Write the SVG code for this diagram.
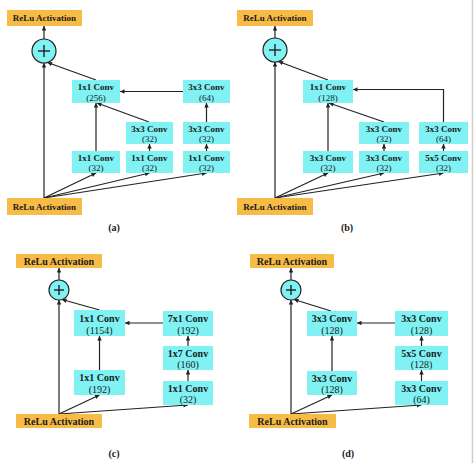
<svg xmlns="http://www.w3.org/2000/svg" width="474" height="467" viewBox="0 0 474 467">
<defs>
<marker id="ah" viewBox="0 0 10 10" refX="10" refY="5" markerWidth="5" markerHeight="4.5" orient="auto" markerUnits="userSpaceOnUse">
<path d="M0,0 L10,5 L0,10 z" fill="#222"/>
</marker>
</defs>
<style>
.relu{fill:#F7BC45}
.conv{fill:#80F2F4}
.sum{fill:#80F2F4;stroke:#222;stroke-width:1.2}
.plus{stroke:#222;stroke-width:1.4}
text{font-family:"Liberation Serif","Times New Roman",serif;fill:#1a1a1a;text-anchor:middle}
.t9{font-size:9px;font-weight:bold}
.n9{font-size:9px}
.t10{font-size:10px;font-weight:bold}
.n10{font-size:10px}
.lab{font-size:10px;font-weight:bold}
.c line,.c polyline{stroke:#222;stroke-width:1.2;fill:none;marker-end:url(#ah)}
</style>
<rect width="474" height="467" fill="#fff"/>
<line x1="472.5" y1="0" x2="472.5" y2="463" stroke="#cfcfcf" stroke-width="1.5"/>

<g class="c" id="connectors">
<!-- (a) -->
<line x1="44" y1="39" x2="44" y2="26"/>
<line x1="44" y1="198" x2="44" y2="63"/>
<line x1="96" y1="80" x2="47.5" y2="62.5"/>
<line x1="96" y1="151" x2="96" y2="103"/>
<line x1="149" y1="122" x2="97" y2="103"/>
<line x1="149.5" y1="151" x2="149.5" y2="144"/>
<line x1="206.5" y1="151" x2="206.5" y2="144"/>
<line x1="206.5" y1="122" x2="206.5" y2="103"/>
<line x1="183" y1="91.5" x2="120" y2="91.5"/>
<line x1="44" y1="198" x2="96" y2="173"/>
<line x1="44" y1="198" x2="149.5" y2="173"/>
<line x1="44" y1="198" x2="206.5" y2="173"/>
<!-- (b) -->
<line x1="275" y1="38" x2="275" y2="26"/>
<line x1="275" y1="198" x2="275" y2="62"/>
<line x1="328" y1="80" x2="278.5" y2="61.5"/>
<line x1="328" y1="151" x2="328" y2="103"/>
<line x1="384" y1="122" x2="329" y2="103"/>
<line x1="384" y1="151" x2="384" y2="144"/>
<line x1="443.5" y1="151" x2="443.5" y2="144"/>
<polyline points="443.5,122 443.5,89.5 353,89.5"/>
<line x1="275" y1="198" x2="328" y2="173"/>
<line x1="275" y1="198" x2="384" y2="173"/>
<line x1="275" y1="198" x2="443.5" y2="173"/>
<!-- (c) -->
<line x1="59" y1="280" x2="59" y2="268"/>
<line x1="59" y1="414" x2="59" y2="300"/>
<line x1="99.5" y1="310" x2="62" y2="299.5"/>
<line x1="163" y1="323" x2="125" y2="323"/>
<line x1="99.5" y1="370" x2="99.5" y2="336"/>
<line x1="188" y1="381" x2="188" y2="370"/>
<line x1="188" y1="346" x2="188" y2="336"/>
<line x1="59" y1="414" x2="99.5" y2="395"/>
<line x1="59" y1="414" x2="188" y2="405"/>
<!-- (d) -->
<line x1="291" y1="280" x2="291" y2="268"/>
<line x1="291" y1="414" x2="291" y2="300"/>
<line x1="331" y1="311" x2="294" y2="299.5"/>
<line x1="395" y1="323" x2="357" y2="323"/>
<line x1="332" y1="371" x2="332" y2="336"/>
<line x1="421.5" y1="381" x2="421.5" y2="370"/>
<line x1="421.5" y1="346" x2="421.5" y2="336"/>
<line x1="291" y1="414" x2="332" y2="395"/>
<line x1="291" y1="414" x2="421.5" y2="405"/>
</g>

<!-- Panel (a) -->
<g id="a_relu_top"><rect class="relu" x="7" y="10" width="75" height="16"/><text class="t9" x="44.5" y="21">ReLu Activation</text></g>
<g id="a_sum"><circle class="sum" cx="44" cy="51" r="12"/><line class="plus" x1="38" y1="51" x2="50" y2="51"/><line class="plus" x1="44" y1="45" x2="44" y2="57"/></g>
<g id="a_conv256"><rect class="conv" x="72" y="80" width="48" height="23"/><text class="t9" x="96" y="90">1x1 Conv</text><text class="n9" x="96" y="101">(256)</text></g>
<g id="a_conv64"><rect class="conv" x="183" y="80" width="47" height="23"/><text class="t9" x="206.5" y="90">3x3 Conv</text><text class="n9" x="206.5" y="101">(64)</text></g>
<g id="a_conv32_m3"><rect class="conv" x="126" y="122" width="47" height="22"/><text class="t9" x="149.5" y="131.5">3x3 Conv</text><text class="n9" x="149.5" y="142">(32)</text></g>
<g id="a_conv32_r3"><rect class="conv" x="183" y="122" width="47" height="22"/><text class="t9" x="206.5" y="131.5">3x3 Conv</text><text class="n9" x="206.5" y="142">(32)</text></g>
<g id="a_conv32_b1"><rect class="conv" x="72" y="151" width="48" height="22"/><text class="t9" x="96" y="160.5">1x1 Conv</text><text class="n9" x="96" y="171">(32)</text></g>
<g id="a_conv32_b2"><rect class="conv" x="126" y="151" width="47" height="22"/><text class="t9" x="149.5" y="160.5">1x1 Conv</text><text class="n9" x="149.5" y="171">(32)</text></g>
<g id="a_conv32_b3"><rect class="conv" x="183" y="151" width="47" height="22"/><text class="t9" x="206.5" y="160.5">1x1 Conv</text><text class="n9" x="206.5" y="171">(32)</text></g>
<g id="a_relu_bot"><rect class="relu" x="7" y="198" width="75" height="17"/><text class="t9" x="44.5" y="209.5">ReLu Activation</text></g>
<text class="lab" x="114" y="231">(a)</text>

<!-- Panel (b) -->
<g id="b_relu_top"><rect class="relu" x="237" y="10" width="76" height="16"/><text class="t9" x="275" y="21">ReLu Activation</text></g>
<g id="b_sum"><circle class="sum" cx="275" cy="50" r="12"/><line class="plus" x1="269" y1="50" x2="281" y2="50"/><line class="plus" x1="275" y1="44" x2="275" y2="56"/></g>
<g id="b_conv128"><rect class="conv" x="303" y="80" width="50" height="23"/><text class="t9" x="328" y="90">1x1 Conv</text><text class="n9" x="328" y="101">(128)</text></g>
<g id="b_conv32_m3"><rect class="conv" x="359" y="122" width="50" height="22"/><text class="t9" x="384" y="131.5">3x3 Conv</text><text class="n9" x="384" y="142">(32)</text></g>
<g id="b_conv64"><rect class="conv" x="419" y="122" width="49" height="22"/><text class="t9" x="443.5" y="131.5">3x3 Conv</text><text class="n9" x="443.5" y="142">(64)</text></g>
<g id="b_conv32_b1"><rect class="conv" x="303" y="151" width="50" height="22"/><text class="t9" x="328" y="160.5">3x3 Conv</text><text class="n9" x="328" y="171">(32)</text></g>
<g id="b_conv32_b2"><rect class="conv" x="359" y="151" width="50" height="22"/><text class="t9" x="384" y="160.5">3x3 Conv</text><text class="n9" x="384" y="171">(32)</text></g>
<g id="b_conv32_b3"><rect class="conv" x="419" y="151" width="49" height="22"/><text class="t9" x="443.5" y="160.5">5x5 Conv</text><text class="n9" x="443.5" y="171">(32)</text></g>
<g id="b_relu_bot"><rect class="relu" x="237" y="198" width="76" height="17"/><text class="t9" x="275" y="209.5">ReLu Activation</text></g>
<text class="lab" x="347" y="231">(b)</text>

<!-- Panel (c) -->
<g id="c_relu_top"><rect class="relu" x="16" y="254" width="86" height="14"/><text class="t10" x="59" y="264.5">ReLu Activation</text></g>
<g id="c_sum"><circle class="sum" cx="59" cy="290" r="10"/><line class="plus" x1="54" y1="290" x2="64" y2="290"/><line class="plus" x1="59" y1="285" x2="59" y2="295"/></g>
<g id="c_conv1154"><rect class="conv" x="74" y="310" width="51" height="26"/><text class="t10" x="99.5" y="321.5">1x1 Conv</text><text class="n10" x="99.5" y="333.5">(1154)</text></g>
<g id="c_conv7x1"><rect class="conv" x="163" y="311" width="50" height="25"/><text class="t10" x="188" y="321.5">7x1 Conv</text><text class="n10" x="188" y="333.5">(192)</text></g>
<g id="c_conv1x7"><rect class="conv" x="163" y="346" width="50" height="24"/><text class="t10" x="188" y="356.5">1x7 Conv</text><text class="n10" x="188" y="368">(160)</text></g>
<g id="c_conv32"><rect class="conv" x="163" y="381" width="50" height="24"/><text class="t10" x="188" y="391.5">1x1 Conv</text><text class="n10" x="188" y="403">(32)</text></g>
<g id="c_conv192"><rect class="conv" x="74" y="370" width="51" height="25"/><text class="t10" x="99.5" y="380.5">1x1 Conv</text><text class="n10" x="99.5" y="392.5">(192)</text></g>
<g id="c_relu_bot"><rect class="relu" x="16" y="414" width="86" height="14"/><text class="t10" x="59" y="424.5">ReLu Activation</text></g>
<text class="lab" x="114" y="457">(c)</text>

<!-- Panel (d) -->
<g id="d_relu_top"><rect class="relu" x="250" y="254" width="84" height="14"/><text class="t10" x="292" y="264.5">ReLu Activation</text></g>
<g id="d_sum"><circle class="sum" cx="291" cy="290" r="10"/><line class="plus" x1="286" y1="290" x2="296" y2="290"/><line class="plus" x1="291" y1="285" x2="291" y2="295"/></g>
<g id="d_conv128_a"><rect class="conv" x="307" y="311" width="50" height="25"/><text class="t10" x="332" y="321.5">3x3 Conv</text><text class="n10" x="332" y="333.5">(128)</text></g>
<g id="d_conv128_b"><rect class="conv" x="395" y="311" width="53" height="25"/><text class="t10" x="421.5" y="321.5">3x3 Conv</text><text class="n10" x="421.5" y="333.5">(128)</text></g>
<g id="d_conv5x5"><rect class="conv" x="395" y="346" width="53" height="24"/><text class="t10" x="421.5" y="356.5">5x5 Conv</text><text class="n10" x="421.5" y="368">(128)</text></g>
<g id="d_conv64"><rect class="conv" x="395" y="381" width="53" height="24"/><text class="t10" x="421.5" y="391.5">3x3 Conv</text><text class="n10" x="421.5" y="403">(64)</text></g>
<g id="d_conv128_c"><rect class="conv" x="307" y="371" width="50" height="24"/><text class="t10" x="332" y="381.5">3x3 Conv</text><text class="n10" x="332" y="393">(128)</text></g>
<g id="d_relu_bot"><rect class="relu" x="249" y="414" width="87" height="14"/><text class="t10" x="292.5" y="424.5">ReLu Activation</text></g>
<text class="lab" x="348" y="457">(d)</text>
</svg>
